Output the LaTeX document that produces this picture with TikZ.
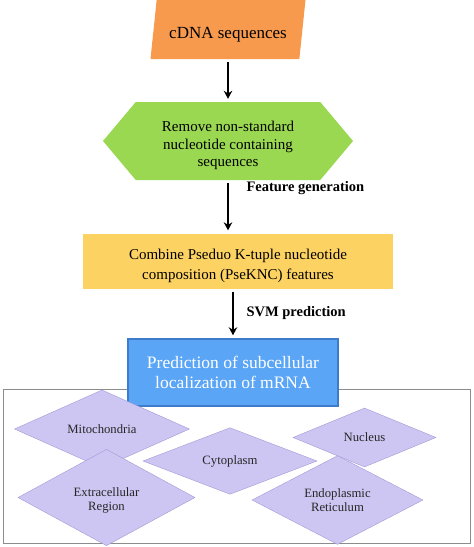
\documentclass[tikz,border=0pt]{standalone}
\usepackage{fontspec}
\setmainfont{Liberation Serif}
\usetikzlibrary{shapes.geometric,shapes.symbols,arrows.meta}
\definecolor{cdnaorange}{HTML}{F79A4E}
\definecolor{filtergreen}{HTML}{9AD852}
\definecolor{featyellow}{HTML}{FCD262}
\definecolor{predblue}{HTML}{5AA5F5}
\definecolor{predborder}{HTML}{3E7CC9}
\definecolor{locfill}{HTML}{CEC6F2}
\definecolor{locdraw}{HTML}{A298D6}
\definecolor{frame}{HTML}{8C8C8C}
\begin{document}
\begin{tikzpicture}[x=1pt, y=-1pt, >={Stealth[length=8pt, width=8.5pt]},
  flow/.style={->, line width=1.6pt, shorten <=3pt, shorten >=3pt},
  loc/.style={diamond, fill=locfill, draw=locdraw, inner sep=0pt, align=center,
    text=black!85, font=\fontsize{12.7}{13.5}\selectfont},
  steplabel/.style={anchor=west, font=\bfseries\fontsize{14.5}{17}\selectfont}]
  \useasboundingbox (0,0) rectangle (474,547);

  % input and processing steps
  \node[trapezium, trapezium left angle=76, trapezium right angle=104,
    trapezium stretches body, fill=cdnaorange, inner sep=0pt,
    minimum width=155pt, minimum height=59pt, text height=21pt, text depth=3.7pt,
    font=\fontsize{17}{20}\selectfont] (cdna) at (228,29.5) {cDNA sequences};
  \node[signal, signal to=east and west, signal pointer angle=100,
    fill=filtergreen, inner sep=0pt, minimum width=250pt, minimum height=78pt,
    text height=55pt, text depth=3.3pt,
    align=center, font=\fontsize{15}{17.5}\selectfont] (filter) at (228,141)
    {Remove non-standard\\nucleotide containing\\sequences};
  \node[fill=featyellow, inner sep=0pt, minimum width=310pt, minimum height=55pt,
    text height=40.3pt, text depth=3.3pt,
    align=center, font=\fontsize{15}{20}\selectfont] (feat) at (238,261)
    {Combine Pseduo K-tuple nucleotide\\composition (PseKNC) features};

  % localization classes
  \draw[frame, line width=1pt] (3,389) rectangle (470,543);
  \node[fill=predblue, draw=predborder, line width=1.5pt, inner sep=0pt,
    minimum width=210pt, minimum height=67pt, align=center, text=white,
    font=\fontsize{17.5}{20}\selectfont] (pred) at (233,372.5)
    {Prediction of subcellular\\localization of mRNA};

  \node[loc, minimum width=175pt, minimum height=55pt] (mito) at (102,429) {Mitochondria};
  \node[loc, minimum width=177pt, minimum height=69pt, text height=28pt, text depth=2.8pt]
    (extra) at (106.5,497.5) {Extracellular\\Region};
  \node[loc, minimum width=174pt, minimum height=56pt] (cyto) at (230,461) {Cytoplasm};
  \node[loc, minimum width=143pt, minimum height=59pt] (nucl) at (364.5,437.5) {Nucleus};
  \node[loc, minimum width=171pt, minimum height=70pt] (endo) at (337.5,500) {Endoplasmic\\Reticulum};

  % arrows
  \draw[flow] (cdna.south) -- (cdna.south |- filter.north);
  \draw[flow] (filter.south) -- (filter.south |- feat.north);
  \draw[flow] (pred.north |- feat.south) -- (pred.north);
  \node[steplabel] (featlab) at (243,188) {Feature generation};
  \node[steplabel] (svmlab) at (243,313) {SVM prediction};
\end{tikzpicture}
\end{document}
